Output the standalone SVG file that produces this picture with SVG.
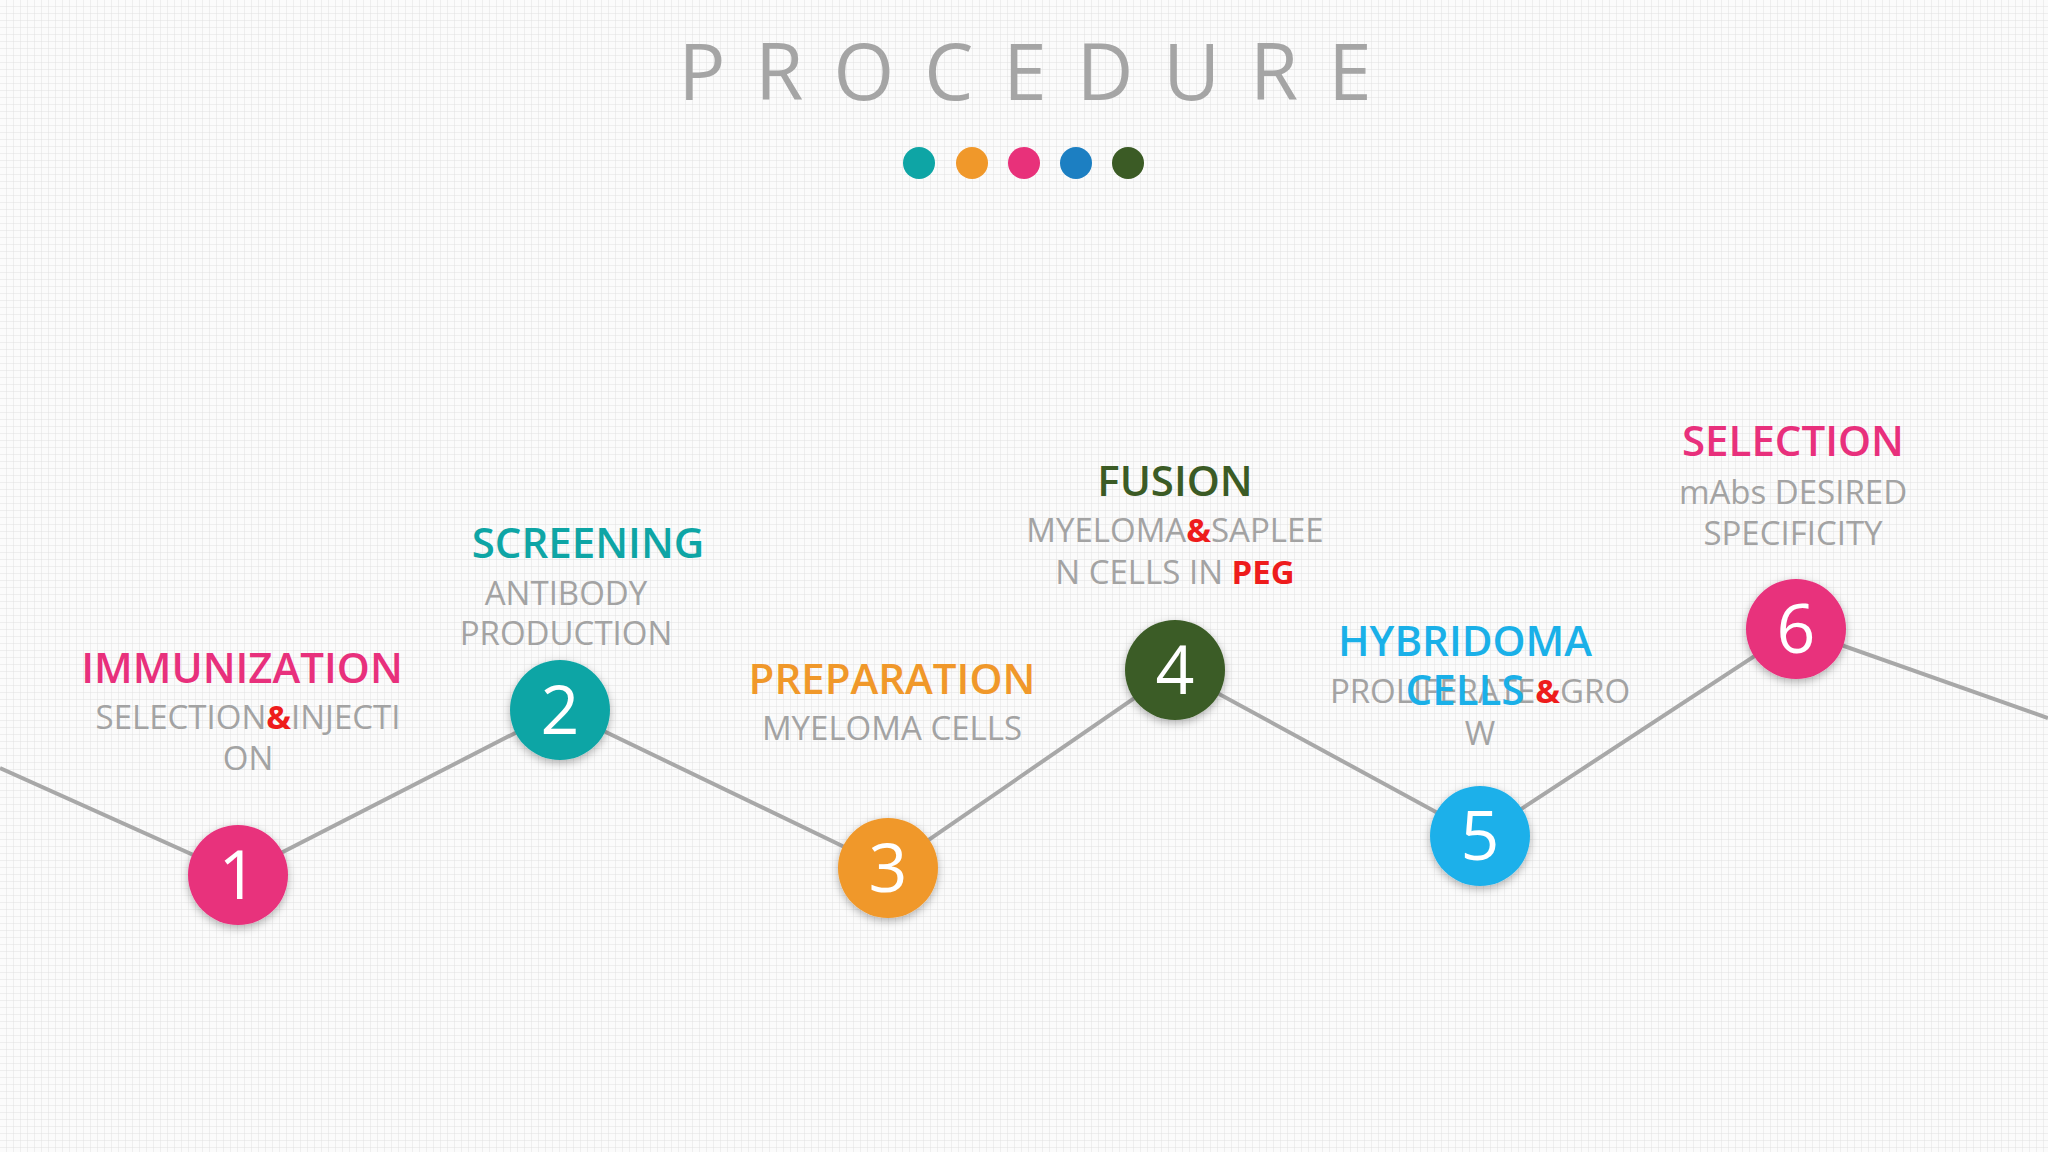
<svg xmlns="http://www.w3.org/2000/svg" width="2048" height="1152" viewBox="0 0 2048 1152">
<defs>
<pattern id="grid" width="7" height="7" patternUnits="userSpaceOnUse">
<path d="M7 0V7H0" fill="none" stroke="#e0e0e0" stroke-width="1"/>
</pattern>
<filter id="sh" x="-30%" y="-30%" width="160%" height="160%">
<feDropShadow dx="0" dy="3" stdDeviation="4" flood-color="#000" flood-opacity="0.3"/>
</filter>
</defs>
<style>
text{font-family:"Open Sans","Liberation Sans",sans-serif;text-anchor:middle}
.h{font-size:42px;font-weight:600}
.s{font-size:33px;fill:#a3a3a3}
.n{font-size:68px;fill:#fff}
.r{fill:#ee1c1c;font-weight:bold}
</style>
<rect width="2048" height="1152" fill="#fbfbfb"/>
<rect width="2048" height="1152" fill="url(#grid)"/>
<text x="1040" y="100" font-size="78" fill="#a5a5a5" letter-spacing="30">PROCEDURE</text>
<g id="dots">
<circle cx="919" cy="163" r="16" fill="#0ea5a5"/>
<circle cx="972" cy="163" r="16" fill="#f0982a"/>
<circle cx="1024" cy="163" r="16" fill="#e8317a"/>
<circle cx="1076" cy="163" r="16" fill="#1c7fc2"/>
<circle cx="1128" cy="163" r="16" fill="#3b5b25"/>
</g>
<g id="connectors">
<polyline points="0,768 238,875 560,710 888,868 1175,670 1480,836 1796,629 2048,718" fill="none" stroke="#a8a8a8" stroke-width="4"/>
</g>
<g id="n1">
<circle cx="238" cy="875" r="50" fill="#e8307c" filter="url(#sh)"/>
<text class="n" x="238" y="899">1</text>
<text class="h" x="242" y="683" fill="#e8307c">IMMUNIZATION</text>
<text class="s" x="248" y="729">SELECTION<tspan class="r">&amp;</tspan>INJECTI</text>
<text class="s" x="248" y="770">ON</text>
</g>
<g id="n2">
<circle cx="560" cy="710" r="50" fill="#0ea5a5" filter="url(#sh)"/>
<text class="n" x="560" y="734">2</text>
<text class="h" x="588" y="558" fill="#0ea5a5">SCREENING</text>
<text class="s" x="566" y="605">ANTIBODY</text>
<text class="s" x="566" y="645">PRODUCTION</text>
</g>
<g id="n3">
<circle cx="888" cy="868" r="50" fill="#f0982a" filter="url(#sh)"/>
<text class="n" x="888" y="892">3</text>
<text class="h" x="892" y="694" fill="#f0982a">PREPARATION</text>
<text class="s" x="892" y="740">MYELOMA CELLS</text>
</g>
<g id="n4">
<circle cx="1175" cy="670" r="50" fill="#3b5b25" filter="url(#sh)"/>
<text class="n" x="1175" y="694">4</text>
<text class="h" x="1175" y="496" fill="#3b5b25">FUSION</text>
<text class="s" x="1175" y="542">MYELOMA<tspan class="r">&amp;</tspan>SAPLEE</text>
<text class="s" x="1175" y="584">N CELLS IN <tspan class="r">PEG</tspan></text>
</g>
<g id="n5">
<circle cx="1480" cy="836" r="50" fill="#1eb0ea" filter="url(#sh)"/>
<text class="n" x="1480" y="860">5</text>
<text class="h" x="1465" y="656" fill="#1ab0e8">HYBRIDOMA</text>
<text class="s" x="1480" y="703">PROLIFERATE<tspan class="r">&amp;</tspan>GRO</text>
<text class="h" x="1465" y="705" fill="#1ab0e8">CELLS</text>
<text class="s" x="1480" y="745">W</text>
</g>
<g id="n6">
<circle cx="1796" cy="629" r="50" fill="#e8307c" filter="url(#sh)"/>
<text class="n" x="1796" y="653">6</text>
<text class="h" x="1793" y="456" fill="#e8307c">SELECTION</text>
<text class="s" x="1793" y="504">mAbs DESIRED</text>
<text class="s" x="1793" y="545">SPECIFICITY</text>
</g>
</svg>
